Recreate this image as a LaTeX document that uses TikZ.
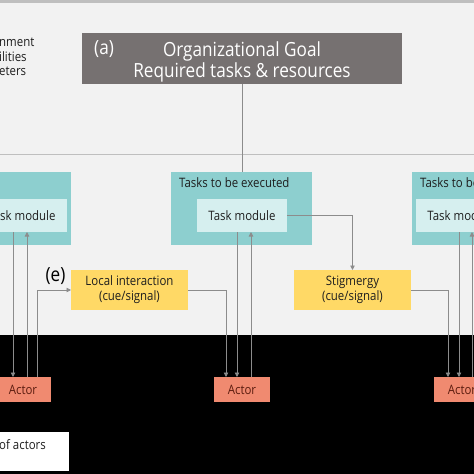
\documentclass[tikz,border=0pt]{standalone}
\usepackage{fontspec}
\setmainfont{Open Sans}[FakeStretch=0.88]
\usetikzlibrary{arrows.meta}
\definecolor{bgc}{HTML}{F2F2F2}
\definecolor{topgray}{HTML}{BFBFBF}
\definecolor{goalc}{HTML}{767171}
\definecolor{tealc}{HTML}{8DCFCF}
\definecolor{innerc}{HTML}{D6EFEF}
\definecolor{yellowc}{HTML}{FFD966}
\definecolor{actorc}{HTML}{F08A70}
\definecolor{actortext}{HTML}{5C1D10}
\definecolor{linec}{HTML}{8C8C8C}
\definecolor{textc}{HTML}{1E1E1E}
\tikzset{
  boxbase/.style={rectangle, inner sep=0pt, outer sep=0pt, draw=none},
  goalbox/.style={boxbase, fill=goalc, minimum width=320pt, minimum height=51pt},
  tealbox/.style={boxbase, fill=tealc, minimum width=141pt, minimum height=73pt},
  innerbox/.style={boxbase, fill=innerc, minimum width=90pt, minimum height=33pt, font=\fontsize{13}{15}\selectfont, text=textc},
  cuebox/.style={boxbase, fill=yellowc, minimum width=117pt, minimum height=40pt, align=center, font=\fontsize{13}{15}\selectfont, text=textc},
  actorbox/.style={boxbase, fill=actorc, minimum width=56pt, minimum height=25pt, font=\fontsize{13}{15}\selectfont, text=actortext},
  smalltext/.style={inner sep=0pt, font=\fontsize{13}{14.5}\selectfont, text=textc},
  bigtext/.style={inner sep=0pt, font=\fontsize{19.5}{21}\selectfont, text=white, align=center},
  conn/.style={draw=linec, line width=0.8pt},
  arr/.style={conn, -{Triangle[width=4.5pt,length=4.5pt]}},
}
\begin{document}
\begin{tikzpicture}[x=1pt,y=-1pt]
\useasboundingbox (0,0) rectangle (474,474);
\clip (0,0) rectangle (474,474);
\fill[bgc] (0,0) rectangle (474,335);
\fill[black] (0,335) rectangle (474,474);
\fill[topgray] (0,0) rectangle (474,2.5);
\draw[draw=topgray, line width=0.8pt] (0,154) -- (474,154);

% left fragments of text
\node[smalltext, anchor=west] (envt) at (-1,42) {nment};
\node[smalltext, anchor=west] (capt) at (-1,57) {ilities};
\node[smalltext, anchor=west] (part) at (-1,71) {eters};

% goal
\node[goalbox] (goal) at (242,58.5) {};
\node[bigtext] (goaltext) at (242,61.5) {Organizational Goal\\Required tasks \& resources};
\node[bigtext, anchor=west] (alabel) at (94,49) {(a)};

% teal boxes
\node[tealbox, minimum width=201pt] (leftteal) at (-29.5,208.5) {};
\node[tealbox] (midteal) at (241.5,208.5) {};
\node[tealbox] (rightteal) at (482.5,208.5) {};
\node[smalltext, anchor=west] (midtitle) at (179,183) {Tasks to be executed};
\node[smalltext, anchor=west] (righttitle) at (420,183) {Tasks to be executed};
\node[innerbox] (leftinner) at (22,215.5) {Task module};
\node[innerbox] (midinner) at (242,215.5) {Task module};
\node[innerbox] (rightinner) at (461,215.5) {Task module};

% cue boxes
\node[cuebox] (local) at (129.5,290) {Local interaction\\(cue/signal)};
\node[cuebox] (stig) at (352.5,290) {Stigmergy\\(cue/signal)};
\node[bigtext, text=black] (elabel) at (55.5,276) {(e)};

% actors
\node[actorbox] (leftactor) at (23,389.5) {Actor};
\node[actorbox] (midactor) at (242,389.5) {Actor};
\node[actorbox] (rightactor) at (462,389.5) {Actor};

% white box
\node[boxbase, fill=white, minimum width=80pt, minimum height=39pt] (numbox) at (29,451.5) {};
\node[smalltext, anchor=west] (numtext) at (-1,445) {of actors};

% connectors
\draw[conn] (goal.south) -- (goal.south |- midteal.north);
\draw[arr] (midinner.east) -| (stig.north);
\draw[arr] (local.east) -| ([xshift=-16pt]midactor.north);
\draw[arr] (stig.east) -| ([xshift=-14pt]rightactor.north);
\draw[arr] ([xshift=14pt]leftactor.north) |- (local.west);

\draw[arr] ([xshift=-9pt]leftinner.south) -- ([xshift=-9pt]leftinner.south |- leftactor.north);
\draw[arr] ([xshift=5pt]leftinner.south |- leftactor.north) -- ([xshift=5pt]leftinner.south);
\draw[arr] ([xshift=-5pt]midinner.south) -- ([xshift=-5pt]midinner.south |- midactor.north);
\draw[arr] ([xshift=9pt]midinner.south |- midactor.north) -- ([xshift=9pt]midinner.south);
\draw[arr] ([xshift=-2pt]rightinner.south) -- ([xshift=-2pt]rightinner.south |- rightactor.north);
\draw[arr] ([xshift=11pt]rightinner.south |- rightactor.north) -- ([xshift=11pt]rightinner.south);
\end{tikzpicture}
\end{document}
